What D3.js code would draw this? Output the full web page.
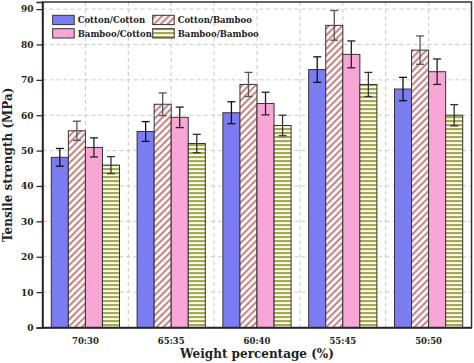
<!DOCTYPE html>
<html><head><meta charset="utf-8">
<script src="https://cdn.jsdelivr.net/npm/d3@7"></script>
<style>body{margin:0;background:#fff}svg{display:block}</style>
</head><body>
<script>
const categories = ["70:30","65:35","60:40","55:45","50:50"];
const seriesNames = ["Cotton/Cotton","Cotton/Bamboo","Bamboo/Cotton","Bamboo/Bamboo"];
const cottonCotton = [48.1, 55.4, 60.7, 72.9, 67.4];
const cottonBamboo = [55.6, 63.1, 68.7, 85.4, 78.4];
const bambooCotton = [50.9, 59.4, 63.3, 77.2, 72.3];
const bambooBamboo = [45.9, 52.0, 57.1, 68.7, 60.0];
const errCottonCotton = [2.5, 2.8, 3.1, 3.6, 3.3];
const errCottonBamboo = [2.7, 3.2, 3.4, 4.2, 4.0];
const errBambooCotton = [2.7, 2.9, 3.2, 3.8, 3.6];
const errBambooBamboo = [2.4, 2.6, 2.9, 3.4, 3.0];
const yTicks = [0,10,20,30,40,50,60,70,80,90];

const values = [cottonCotton, cottonBamboo, bambooCotton, bambooBamboo];
const errors = [errCottonCotton, errCottonBamboo, errBambooCotton, errBambooBamboo];

const W = 474, H = 363;
const L = 42.5, R = 471.5, T = 2, B = 327.5;
const font = "'DejaVu Serif', serif";

const svg = d3.select("body").append("svg").attr("width", W).attr("height", H);
const defs = svg.append("defs");
const hatch = defs.append("pattern").attr("id","hatch").attr("patternUnits","userSpaceOnUse")
  .attr("width",4.8).attr("height",4.8).attr("patternTransform","rotate(45)");
hatch.append("rect").attr("width",4.8).attr("height",4.8).attr("fill","#fff");
hatch.append("line").attr("x1",1.2).attr("y1",0).attr("x2",1.2).attr("y2",4.8)
  .attr("stroke","#c27676").attr("stroke-width",1.9);
const stripe = defs.append("pattern").attr("id","stripe").attr("patternUnits","userSpaceOnUse")
  .attr("width",6).attr("height",4);
stripe.append("rect").attr("width",6).attr("height",4).attr("fill","#fff");
stripe.append("rect").attr("y",0).attr("width",6).attr("height",2.2).attr("fill","#a8a850");

const fills = ["#7c7cf2","url(#hatch)","#f8a6d6","url(#stripe)"];
const errColors = ["#111","#555","#222","#333"];

const x0 = d3.scaleBand().domain(categories).range([L, R]).paddingInner(0.205).paddingOuter(0.1025);
const x1 = d3.scaleBand().domain(d3.range(4)).range([0, x0.bandwidth()]);
const y = d3.scaleLinear().domain([0, 92]).range([B, T]);

// grid
const step = x0.step();
const g = svg.append("g");
g.selectAll("line.h").data(yTicks.slice(1)).join("line")
  .attr("x1", L).attr("x2", R).attr("y1", d => y(d)).attr("y2", d => y(d))
  .attr("stroke","#c4c4c4").attr("stroke-width",0.9).attr("stroke-dasharray","4,3");
const vgrid = d3.range(1, categories.length*2).map(k => L + k*step/2);
g.selectAll("line.v").data(vgrid).join("line")
  .attr("x1", d=>d).attr("x2", d=>d).attr("y1", T).attr("y2", B)
  .attr("stroke","#c4c4c4").attr("stroke-width",0.9).attr("stroke-dasharray","4,3");

// bars
const data = [];
categories.forEach((c,i) => values.forEach((v,s) => data.push({c, s, v: v[i], e: errors[s][i]})));
const bars = svg.append("g");
bars.selectAll("rect").data(data).join("rect")
  .attr("x", d => x0(d.c) + x1(d.s)).attr("width", x1.bandwidth())
  .attr("y", d => y(d.v)).attr("height", d => B - y(d.v))
  .attr("fill", d => fills[d.s]).attr("stroke","#333").attr("stroke-width",1);

// error bars
const eb = svg.append("g");
data.forEach(d => {
  const cx = x0(d.c) + x1(d.s) + x1.bandwidth()/2;
  const col = errColors[d.s];
  eb.append("line").attr("x1",cx).attr("x2",cx).attr("y1",y(d.v+d.e)).attr("y2",y(d.v-d.e)).attr("stroke",col).attr("stroke-width",1.3);
  [d.v+d.e, d.v-d.e].forEach(t => eb.append("line").attr("x1",cx-4).attr("x2",cx+4).attr("y1",y(t)).attr("y2",y(t)).attr("stroke",col).attr("stroke-width",1.3));
});

// frame
svg.append("rect").attr("x",L).attr("y",T).attr("width",R-L).attr("height",B-T)
  .attr("fill","none").attr("stroke","#333").attr("stroke-width",1.5);

// axes
const yAxis = svg.append("g").attr("transform",`translate(${L},0)`)
  .call(d3.axisLeft(y).tickValues(yTicks).tickSize(6).tickPadding(3));
yAxis.select(".domain").attr("stroke","#222").attr("stroke-width",1.5);
yAxis.selectAll("text").attr("font-family",font).attr("font-weight","bold").attr("font-size",9).attr("fill","#222");
yAxis.selectAll(".tick line").attr("stroke","#222").attr("stroke-width",1.2);

const xAxis = svg.append("g").attr("transform",`translate(0,${B})`)
  .call(d3.axisBottom(x0).tickSize(0).tickPadding(10));
xAxis.select(".domain").attr("stroke","#222").attr("stroke-width",1.5);
xAxis.selectAll("text").attr("font-family",font).attr("font-weight","bold").attr("font-size",8.5).attr("fill","#222");

// titles
svg.append("text").attr("x",(L+R)/2).attr("y",358).attr("text-anchor","middle")
  .attr("font-family",font).attr("font-weight","bold").attr("font-size",12).attr("fill","#222")
  .text("Weight percentage (%)");
svg.append("text").attr("transform",`translate(12,${(T+B)/2}) rotate(-90)`).attr("text-anchor","middle")
  .attr("font-family",font).attr("font-weight","bold").attr("font-size",12).attr("fill","#222")
  .text("Tensile strength (MPa)");

// legend
const legPos = [[52.7,15.3],[152.7,15.3],[52.7,28.7],[152.7,28.7]];
const leg = svg.append("g");
seriesNames.forEach((n,s) => {
  const [lx,ly] = legPos[s];
  leg.append("rect").attr("x",lx).attr("y",ly).attr("width",21.5).attr("height",9.3)
    .attr("fill",fills[s]).attr("stroke","#333").attr("stroke-width",1);
  leg.append("text").attr("x",lx+25).attr("y",ly+7.8)
    .attr("font-family",font).attr("font-weight","bold").attr("font-size",8.5).attr("fill","#222").text(n);
});
</script>
</body></html>
